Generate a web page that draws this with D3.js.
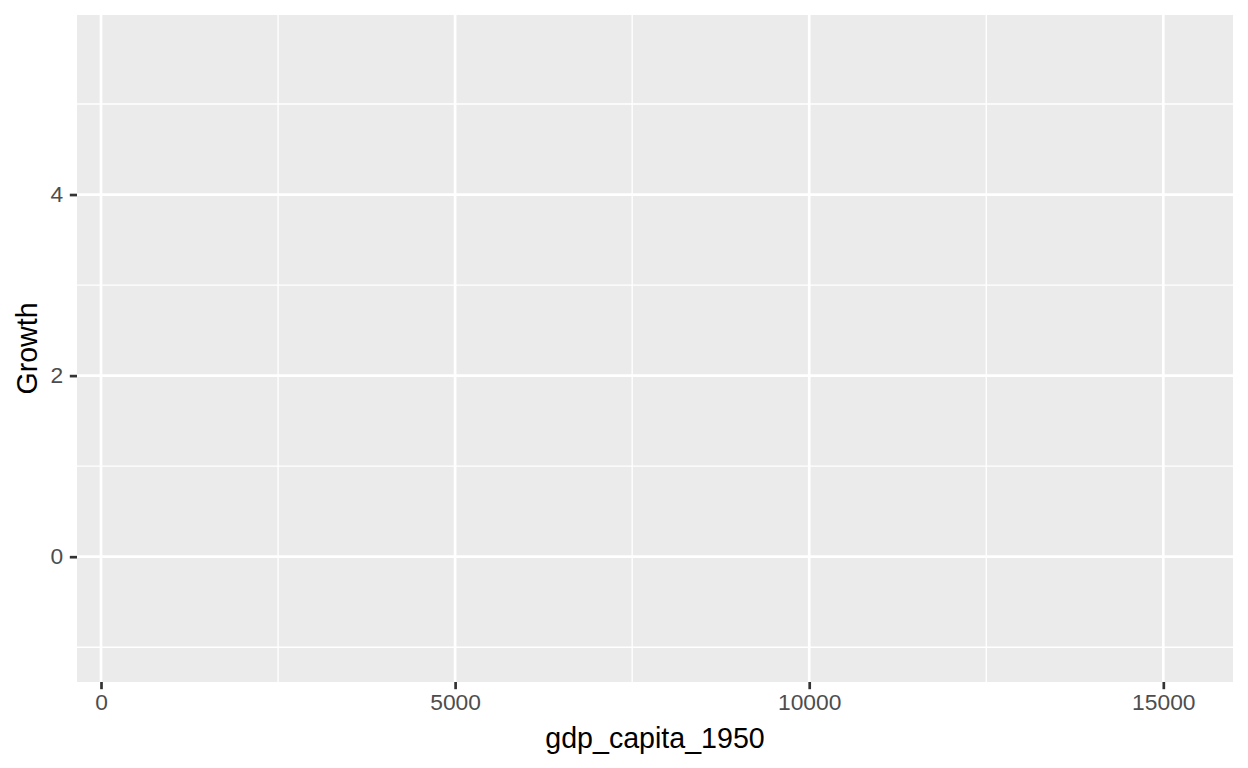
<!DOCTYPE html>
<html>
<head>
<meta charset="utf-8">
<script src="https://cdn.jsdelivr.net/npm/d3@7"></script>
<style>
  body { margin: 0; background: #fff; }
  svg { display: block; }
  text { font-family: "Liberation Sans", Arial, sans-serif; }
</style>
</head>
<body>
<svg id="grafico" width="1248" height="768"></svg>
<script>
// datos del grafico (la figura original no muestra puntos)
const puntos = [];
const x_dominio = [-339, 15984];
const y_dominio = [-1.384, 5.983];
const x_ticks = [0, 5000, 10000, 15000];
const x_minor = [2500, 7500, 12500];
const y_ticks = [0, 2, 4];
const y_minor = [-1, 1, 3, 5];
const titulo_x = 'gdp_capita_1950';
const titulo_y = 'Growth';

const margen = {top: 15, right: 15, bottom: 86, left: 77};
const ancho = 1248, alto = 768;
const tick_largo = 7.2;
const grosor_major = 2.7, grosor_minor = 1.35;

const svg = d3.select('#grafico');

const escalaX = d3.scaleLinear()
    .domain(x_dominio)
    .range([margen.left, ancho - margen.right]);

const escalaY = d3.scaleLinear()
    .domain(y_dominio)
    .range([alto - margen.bottom, margen.top]);

// fondo del panel
svg.append('rect')
    .attr('x', margen.left)
    .attr('y', margen.top)
    .attr('width', ancho - margen.left - margen.right)
    .attr('height', alto - margen.top - margen.bottom)
    .attr('fill', '#ebebeb');

const grilla = svg.append('g').attr('id', 'grilla');

grilla.selectAll('.minorX')
    .data(x_minor)
    .join('line')
    .attr('x1', d => escalaX(d)).attr('x2', d => escalaX(d))
    .attr('y1', margen.top).attr('y2', alto - margen.bottom)
    .attr('stroke', '#fff').attr('stroke-width', grosor_minor);

grilla.selectAll('.minorY')
    .data(y_minor)
    .join('line')
    .attr('y1', d => escalaY(d)).attr('y2', d => escalaY(d))
    .attr('x1', margen.left).attr('x2', ancho - margen.right)
    .attr('stroke', '#fff').attr('stroke-width', grosor_minor);

grilla.selectAll('.majorX')
    .data(x_ticks)
    .join('line')
    .attr('x1', d => escalaX(d)).attr('x2', d => escalaX(d))
    .attr('y1', margen.top).attr('y2', alto - margen.bottom)
    .attr('stroke', '#fff').attr('stroke-width', grosor_major);

grilla.selectAll('.majorY')
    .data(y_ticks)
    .join('line')
    .attr('y1', d => escalaY(d)).attr('y2', d => escalaY(d))
    .attr('x1', margen.left).attr('x2', ancho - margen.right)
    .attr('stroke', '#fff').attr('stroke-width', grosor_major);

// puntos (vacio)
svg.append('g')
    .selectAll('circle')
    .data(puntos)
    .join('circle')
    .attr('cx', d => escalaX(d.x))
    .attr('cy', d => escalaY(d.y))
    .attr('r', 4)
    .attr('fill', '#000');

// ejes
const ejeX = d3.axisBottom(escalaX)
    .tickValues(x_ticks)
    .tickFormat(d3.format('d'))
    .tickSize(tick_largo)
    .tickPadding(5);

const ejeY = d3.axisLeft(escalaY)
    .tickValues(y_ticks)
    .tickFormat(d3.format('d'))
    .tickSize(tick_largo)
    .tickPadding(6.6);

const contX = svg.append('g')
    .attr('transform', `translate(0,${alto - margen.bottom})`)
    .call(ejeX);

const contY = svg.append('g')
    .attr('transform', `translate(${margen.left},0)`)
    .call(ejeY);

[contX, contY].forEach(c => {
    c.select('.domain').remove();
    c.selectAll('.tick line').attr('stroke', '#333333').attr('stroke-width', 2.7);
    c.selectAll('.tick text')
        .attr('fill', '#4d4d4d')
        .style('font-size', '22.8px')
        .style('font-family', '"Liberation Sans", Arial, sans-serif');
});

// titulos
svg.append('text')
    .attr('x', (margen.left + ancho - margen.right) / 2)
    .attr('y', 748)
    .attr('text-anchor', 'middle')
    .style('font-size', '28.6px')
    .attr('fill', '#000')
    .text(titulo_x);

svg.append('text')
    .attr('transform', `translate(37,${(margen.top + alto - margen.bottom) / 2}) rotate(-90)`)
    .attr('text-anchor', 'middle')
    .style('font-size', '28.6px')
    .attr('fill', '#000')
    .text(titulo_y);
</script>
</body>
</html>
